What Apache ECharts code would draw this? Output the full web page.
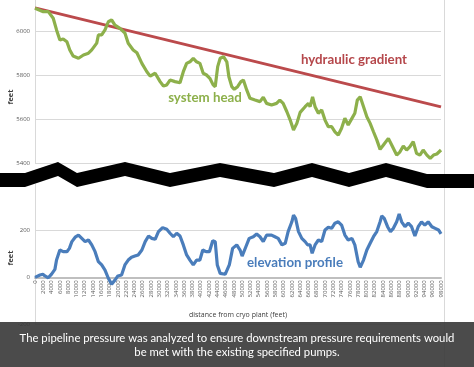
<!DOCTYPE html>
<html><head><meta charset="utf-8">
<script src="https://cdn.jsdelivr.net/npm/echarts@6/dist/echarts.min.js"></script>
<style>html,body{margin:0;padding:0;background:#fff}#c{width:474px;height:367px}</style>
</head><body><div id="c"></div>
<script>
// system head (feet) along distance (feet)
const headDist = [0,2000,3200,4400,5200,6000,6800,7700,8400,9200,10500,11700,12900,13700,14900,15300,16100,16900,17700,18500,19300,20500,21700,22500,23700,24600,25800,27000,27800,29000,30200,31000,31800,32600,33800,35000,35800,36600,37400,38200,39000,39800,40600,41400,42200,43000,43500,44100,44700,45500,46300,46800,47500,48100,48900,49700,50300,51100,51900,53100,54300,55100,55900,57100,58300,59100,59900,60800,61600,62400,63200,64000,65200,66000,66400,67000,67600,68400,69200,70000,70800,71600,72400,73200,74000,74800,75600,76500,77200,77800,78500,79300,80100,80900,81700,82500,83300,84100,85300,86100,87300,88100,88900,89700,90500,91300,92100,92900,93700,94600,95400,96200,97000,98000];
const headFeet = [6103,6088,6088,6058,6005,5959,5964,5951,5914,5886,5876,5891,5899,5914,5945,5982,5982,6005,6042,6050,6027,6012,5991,5944,5914,5901,5853,5815,5795,5808,5770,5750,5755,5777,5770,5765,5815,5853,5860,5876,5860,5853,5808,5800,5785,5755,5747,5838,5876,5883,5860,5792,5747,5735,5747,5770,5777,5732,5694,5686,5679,5699,5671,5664,5671,5686,5671,5633,5595,5550,5580,5630,5656,5671,5656,5701,5656,5626,5641,5595,5565,5565,5542,5527,5558,5603,5573,5603,5626,5686,5701,5656,5610,5580,5542,5505,5462,5482,5512,5482,5436,5451,5477,5459,5474,5497,5444,5436,5459,5436,5421,5436,5441,5459];
// hydraulic gradient
const gradDist = [0, 98000];
const gradFeet = [6105, 5655];
// elevation profile
const elevDist = [0,1200,1900,2400,3200,4000,4800,5200,6000,6800,7700,8300,8900,9700,10500,11300,12100,12900,13700,14500,15300,16100,16900,17700,18500,19300,20000,20900,21700,22500,23300,24100,24900,25800,26600,27400,28200,29000,29800,30800,31800,32600,33400,34200,35000,35800,36600,37400,38200,39000,39800,40500,41300,42100,42900,43500,44000,44700,45900,46900,47700,48700,49500,50000,50900,51700,52700,53500,54300,55100,55900,57100,57900,58700,59600,60400,61100,62000,62400,62900,63600,64400,65200,65800,66400,66900,67600,68400,69200,70000,70800,71600,72400,73200,74000,74800,75600,76500,77200,78000,78500,79300,80100,80900,81700,82500,83300,83700,84300,85100,85800,86500,87300,87900,88500,89300,90100,90900,91700,92500,93300,94100,94900,95800,96600,97400,98000];
const elevFeet = [0,10,13,6,-2,14,34,74,117,110,110,124,153,172,181,167,153,160,139,110,67,53,31,-4,-29,-12,6,10,53,74,86,91,96,117,153,177,167,163,196,213,206,189,174,189,177,139,96,74,53,74,74,117,110,110,157,153,53,17,13,53,124,139,117,91,131,167,174,186,174,153,181,181,174,167,139,146,196,238,267,253,196,167,153,139,139,103,139,160,153,203,215,210,232,238,224,181,160,167,139,67,43,74,117,146,174,196,238,263,253,217,196,210,238,271,238,217,232,217,177,217,238,224,238,217,210,203,186];

const headTicks = {min: 5400, max: 6200, step: 200};
const elevTicks = {min: -200, max: 400, step: 200};
const distTicks = {min: 0, max: 98000, step: 2000};

const pair = (a, b) => a.map((d, i) => [d, b[i]]);
const plain = v => String(v);

const chart = echarts.init(document.getElementById('c'));
const lab = {fontSize: 6, color: '#595959', fontFamily: 'Open Sans', formatter: plain};
const gridCol = '#d9d9d9';

// break band (decoration)
const bandTop = [[0,173],[25,173],[58,162],[77,173],[125,162],[170,173],[220,163],[274,173],[312,163],[349,173],[386,163],[427,174],[474,174]];
const bandPts = bandTop.concat(bandTop.slice().reverse().map(p => [p[0], p[1] + 14]));

chart.setOption({
  animation: false,
  backgroundColor: '#fff',
  grid: [
    {left: 35, right: 33, top: -13, height: 176, outerBoundsMode: 'none', containLabel: false},
    {left: 35, right: 33, top: 184, height: 140, outerBoundsMode: 'none', containLabel: false}
  ],
  xAxis: [
    {gridIndex: 0, type: 'value', min: distTicks.min, max: distTicks.max, show: false},
    {gridIndex: 1, type: 'value', min: distTicks.min, max: distTicks.max, interval: distTicks.step,
      position: 'bottom', offset: -46.7,
      axisLine: {onZero: false, lineStyle: {color: '#bfbfbf', width: 2}},
      axisTick: {show: false}, splitLine: {show: false},
      axisLabel: Object.assign({rotate: 90, margin: 3, hideOverlap: false}, lab),
      name: 'distance from cryo plant (feet)', nameLocation: 'middle', nameGap: 34,
      nameTextStyle: {fontSize: 7, color: '#404040', fontFamily: 'Open Sans'}}
  ],
  yAxis: [
    {gridIndex: 0, type: 'value', min: headTicks.min, max: headTicks.max, interval: headTicks.step,
      axisLine: {show: true, onZero: false, lineStyle: {color: gridCol}}, axisTick: {show: false},
      splitLine: {lineStyle: {color: gridCol}},
      axisLabel: Object.assign({margin: 5}, lab)},
    {gridIndex: 1, type: 'value', min: elevTicks.min, max: elevTicks.max, interval: elevTicks.step,
      axisLine: {show: true, onZero: false, lineStyle: {color: gridCol}}, axisTick: {show: false},
      splitLine: {showMaxLine: false, lineStyle: {color: gridCol}},
      axisLabel: Object.assign({margin: 5, showMaxLabel: false}, lab)}
  ],
  series: [
    {type: 'line', xAxisIndex: 0, yAxisIndex: 0, data: pair(gradDist, gradFeet), symbol: 'none',
      lineStyle: {color: '#bb4a4c', width: 3}},
    {type: 'line', xAxisIndex: 0, yAxisIndex: 0, data: pair(headDist, headFeet), symbol: 'none',
      lineStyle: {color: '#8db04b', width: 3.2}},
    {type: 'line', xAxisIndex: 1, yAxisIndex: 1, data: pair(elevDist, elevFeet), symbol: 'none',
      lineStyle: {color: '#4a7dbb', width: 3.2}}
  ],
  graphic: [
    {type: 'line', z: 50, shape: {x1: 444.5, y1: 0, x2: 444.5, y2: 367}, style: {stroke: gridCol, lineWidth: 1}},
    {type: 'polygon', z: 100, shape: {points: bandPts}, style: {fill: '#000'}},
    {type: 'text', z: 100, x: 11, y: 97, rotation: Math.PI / 2,
      style: {text: 'feet', fontSize: 7.5, fontWeight: 'bold', fill: '#404040', fontFamily: 'Open Sans', align: 'center', verticalAlign: 'middle'}},
    {type: 'text', z: 100, x: 11, y: 258, rotation: Math.PI / 2,
      style: {text: 'feet', fontSize: 7.5, fontWeight: 'bold', fill: '#404040', fontFamily: 'Open Sans', align: 'center', verticalAlign: 'middle'}},
    {type: 'text', z: 100, x: 354, y: 60,
      style: {text: 'hydraulic gradient', fontSize: 13.3, fontWeight: 'bold', fill: '#b5474b', fontFamily: 'Lato', align: 'center', verticalAlign: 'middle'}},
    {type: 'text', z: 100, x: 205, y: 98,
      style: {text: 'system head', fontSize: 13.3, fontWeight: 'bold', fill: '#8db04b', fontFamily: 'Lato', align: 'center', verticalAlign: 'middle'}},
    {type: 'text', z: 100, x: 295, y: 263,
      style: {text: 'elevation profile', fontSize: 13.3, fontWeight: 'bold', fill: '#4a7dbb', fontFamily: 'Lato', align: 'center', verticalAlign: 'middle'}},
    {type: 'rect', z: 110, shape: {x: 0, y: 322, width: 474, height: 45}, style: {fill: 'rgba(55,55,55,0.9)'}},
    {type: 'text', z: 111, x: 237, y: 345,
      style: {text: 'The pipeline pressure was analyzed to ensure downstream pressure requirements would\nbe met with the existing specified pumps.',
        fontSize: 11.3, lineHeight: 14, fill: '#fff', fontFamily: 'Lato', align: 'center', verticalAlign: 'middle'}}
  ]
});
</script></body></html>
